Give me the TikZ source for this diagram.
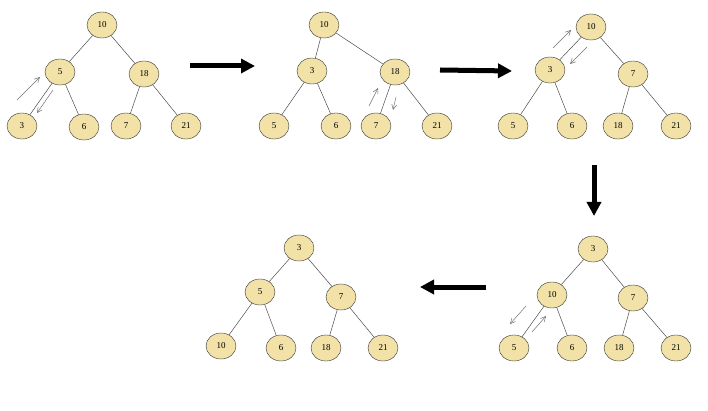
\documentclass[tikz,border=0pt]{standalone}
\usepackage{fontspec}
\setmainfont{Liberation Serif}
\usetikzlibrary{arrows.meta,shapes.geometric}
\definecolor{nodefill}{HTML}{F2E2A8}
\begin{document}
\begin{tikzpicture}[x=1pt,y=-1pt,
  hn/.style={ellipse,draw=black!80,fill=nodefill,minimum width=30pt,minimum height=26pt,inner sep=0pt,font=\fontsize{9}{9}\selectfont},
  ed/.style={draw=black!70,line width=0.5pt},
  big/.style={line width=5pt,-{Triangle[length=14pt,width=14pt]}},
  sm/.style={draw=black!55,line width=0.5pt,-{Straight Barb[length=5pt,width=5pt]}}]
\useasboundingbox (0,0) rectangle (708,411);
% tree 1
\node[hn] (ar) at (102,25) {10}; \node[hn] (aa) at (60,72) {5}; \node[hn] (ab) at (144,74) {18};
\node[hn] (ac) at (22,126) {3}; \node[hn] (ad) at (84,127) {6}; \node[hn] (ae) at (126,126) {7}; \node[hn] (af) at (186,126) {21};
% tree 2
\node[hn] (br) at (324,25) {10}; \node[hn] (ba) at (312,71) {3}; \node[hn] (bb) at (395,72) {18};
\node[hn] (bc) at (274,126) {5}; \node[hn] (bd) at (336,126) {6}; \node[hn] (be) at (376,126) {7}; \node[hn] (bf) at (437,126) {21};
% tree 3
\node[hn] (cr) at (591,27) {10}; \node[hn] (ca) at (550,70) {3}; \node[hn] (cb) at (633,74) {7};
\node[hn] (cc) at (513,126) {5}; \node[hn] (cd) at (572,126) {6}; \node[hn] (ce) at (618,126) {18}; \node[hn] (cf) at (676,126) {21};
% tree 4
\node[hn] (dr) at (593,249) {3}; \node[hn] (da) at (552,295) {10}; \node[hn] (db) at (633,298) {7};
\node[hn] (dc) at (514,348) {5}; \node[hn] (dd) at (572,348) {6}; \node[hn] (de) at (619,348) {18}; \node[hn] (df) at (676,348) {21};
% tree 5
\node[hn] (er) at (299,248) {3}; \node[hn] (ea) at (260,292) {5}; \node[hn] (eb) at (341,297) {7};
\node[hn] (ec) at (221,346) {10}; \node[hn] (ed) at (281,348) {6}; \node[hn] (ee) at (326,348) {18}; \node[hn] (ef) at (383,348) {21};
\foreach \t in {a,b,c,d,e}{
  \draw[ed] (\t r) -- (\t a); \draw[ed] (\t r) -- (\t b);
  \draw[ed] (\t a) -- (\t c); \draw[ed] (\t a) -- (\t d);
  \draw[ed] (\t b) -- (\t e); \draw[ed] (\t b) -- (\t f);}
% big arrows
\coordinate (g1) at (190,66); \coordinate (g2) at (255,66);
\coordinate (g3) at (440,70); \coordinate (g4) at (512,71);
\coordinate (g5) at (594,165); \coordinate (g6) at (594,216);
\coordinate (g7) at (486,287); \coordinate (g8) at (420,287);
\draw[big] (g1) -- (g2); \draw[big] (g3) -- (g4);
\draw[big] (g5) -- (g6); \draw[big] (g7) -- (g8);
% small arrows
\coordinate (s1) at (17,100); \coordinate (s2) at (40,77);
\coordinate (s3) at (53,90); \coordinate (s4) at (37,113);
\coordinate (s5) at (369,106); \coordinate (s6) at (378,88);
\coordinate (s7) at (396,97); \coordinate (s8) at (393,110);
\coordinate (s9) at (553,48); \coordinate (s10) at (571,30);
\coordinate (s11) at (587,47); \coordinate (s12) at (570,64);
\coordinate (s13) at (526,306); \coordinate (s14) at (510,324);
\coordinate (s15) at (532,332); \coordinate (s16) at (546,316);
\draw[sm] (s1) -- (s2); \draw[sm] (s3) -- (s4);
\draw[sm] (s5) -- (s6); \draw[sm] (s7) -- (s8);
\draw[sm] (s9) -- (s10); \draw[sm] (s11) -- (s12);
\draw[sm] (s13) -- (s14); \draw[sm] (s15) -- (s16);
\end{tikzpicture}
\end{document}
